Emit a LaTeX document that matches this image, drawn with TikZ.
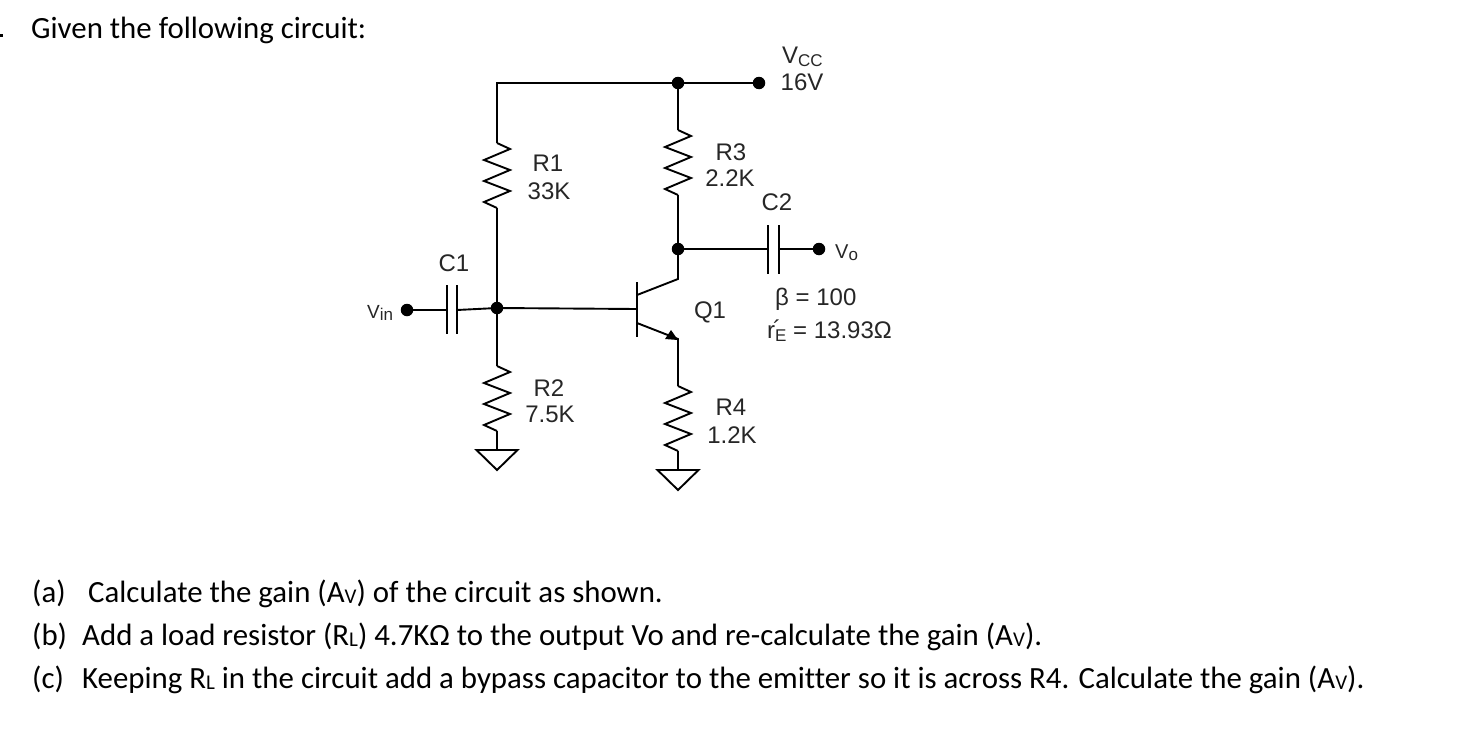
\documentclass[tikz,border=0pt]{standalone}
\usepackage{fontspec}
\setmainfont[Ligatures=NoCommon]{Carlito}
\newfontfamily\arial{Liberation Sans}
\tikzset{
  x=1pt,y=-1pt,
  wire/.style={draw=black,line width=1.9pt,line join=miter},
  dot/.style={circle,fill=black,inner sep=0pt,minimum size=12.5pt},
  pt/.style={inner sep=0pt,minimum size=0pt},
  lab/.style={font=\arial\fontsize{24}{26}\selectfont,inner sep=0pt,text=black!85},
  task/.style={anchor=base west,inner sep=0pt,font=\fontsize{30.85}{34}\selectfont,text=black},
  res/.pic={\draw[wire] (0,0) -- (13,6) -- (-13,17) -- (13,27) -- (-13,38) -- (13,48) -- (-13,59) -- (0,65);},
  gnd/.pic={\draw[wire] (-20.5,0) -- (20.5,0) -- (0,20) -- cycle;}
}
\newcommand{\sbs}[1]{\raisebox{-3pt}{\fontsize{17}{18}\selectfont #1}}
\newcommand{\tsb}[1]{\raisebox{-1pt}{\fontsize{21}{22}\selectfont #1}}
\begin{document}
\begin{tikzpicture}
\useasboundingbox (0,0) rectangle (1466,736);
% junctions and terminals
\node[dot] (vcc) at (759,83) {};
\node[dot] (jtop) at (678,83) {};
\node[dot] (jbase) at (497,308) {};
\node[dot] (jcol) at (678,249) {};
\node[dot] (vin) at (407,310) {};
\node[dot] (vo) at (819,249) {};
\node[pt] (tl) at (497,83) {};
\node[pt] (r1a) at (497,143) {};
\node[pt] (r1b) at (497,208) {};
\node[pt] (r2a) at (497,366) {};
\node[pt] (r2b) at (497,431) {};
\node[pt] (g2) at (497,450) {};
\node[pt] (r3a) at (678,130) {};
\node[pt] (r3b) at (678,195) {};
\node[pt] (r4a) at (678,386) {};
\node[pt] (r4b) at (678,451) {};
\node[pt] (g4) at (678,470) {};
\node[pt] (c1l) at (447,310) {};
\node[pt] (c1r) at (457,310) {};
\node[pt] (c2l) at (768,249) {};
\node[pt] (c2r) at (779,249) {};
\node[pt] (qb) at (637,309) {};
\node[pt] (qct) at (637,295) {};
\node[pt] (qc) at (678,279) {};
\node[pt] (qet) at (637,323) {};
\node[pt] (qe) at (678,339) {};
% wires
\draw[wire] (r1a.center) -- (tl.center) -- (vcc.center);
\draw[wire] (r1b.center) -- (r2a.center);
\draw[wire] (jtop.center) -- (r3a.center);
\draw[wire] (r3b.center) -- (qc.center) -- (qct.center);
\draw[wire] (jcol.center) -- (c2l.center);
\draw[wire] (c2r.center) -- (vo.center);
\draw[wire] (vin.center) -- (c1l.center);
\draw[wire] (c1r.center) -- (jbase.center) -- (qb.center);
\draw[wire] (qet.center) -- (qe.center) -- (r4a.center);
\draw[wire] (r2b.center) -- (g2.center);
\draw[wire] (r4b.center) -- (g4.center);
% components
\pic at (r1a) {res};
\pic at (r2a) {res};
\pic at (r3a) {res};
\pic at (r4a) {res};
\pic at (g2) {gnd};
\pic at (g4) {gnd};
\draw[wire] (447,285) -- (447,334);
\draw[wire] (457,285) -- (457,334);
\draw[wire] (768,225) -- (768,274);
\draw[wire] (779,225) -- (779,274);
\draw[wire] (637,282) -- (637,337);
\fill[black] (678,340) -- (671,330) -- (665,339) -- cycle;
\fill[black] (0,33.5) rectangle (2.5,36.5);
% labels
\node[lab] (lr1) at (548,163) {R1};
\node[lab] (lv1) at (549,191) {33K};
\node[lab] (lr2) at (549,388) {R2};
\node[lab] (lv2) at (550,414) {7.5K};
\node[lab] (lr3) at (731,152) {R3};
\node[lab] (lv3) at (730,178) {2.2K};
\node[lab] (lr4) at (731,407) {R4};
\node[lab] (lv4) at (732,435) {1.2K};
\node[lab] (lc1) at (454,263) {C1};
\node[lab] (lc2) at (777,202) {C2};
\node[lab] (lq) at (710,312) {Q1};
\node[lab,anchor=base west] (lvcc) at (782,63) {V\sbs{CC}};
\node[lab] (l16) at (802,82) {16V};
\node[lab,anchor=base west] (lvin) at (367,318) {\fontsize{19}{20}\selectfont V\raisebox{-2.5pt}{\fontsize{17}{18}\selectfont in}};
\node[lab,anchor=base west] (lvo) at (835,258) {\fontsize{20}{21}\selectfont V\raisebox{-2.5pt}{\fontsize{17}{18}\selectfont o}};
\node[lab,anchor=base west] (lb) at (775,305) {β = 100};
\node[lab,anchor=base west] (lr) at (767,338) {r\rlap{\kern-2pt\smash{\raisebox{1pt}{´}}}\sbs{E} = 13.93Ω};
% text
\node[task] (t0) at (31,38) {Given the following circuit:};
\node[task] (ta) at (32,602) {(a)};
\node[task] (ta2) at (88,602) {Calculate the gain (A\tsb{V}) of the circuit as shown.};
\node[task] (tb) at (32,645) {(b)};
\node[task] (tb2) at (82,645) {Add a load resistor (R\tsb{L}) 4.7KΩ to the output Vo and re-calculate the gain (A\tsb{V}).};
\node[task] (tc) at (32,688) {(c)};
\node[task] (tc2) at (82,688) {Keeping R\tsb{L} in the circuit add a bypass capacitor to the emitter so it is across R4. Calculate the gain (A\tsb{V}).};
\end{tikzpicture}
\end{document}
